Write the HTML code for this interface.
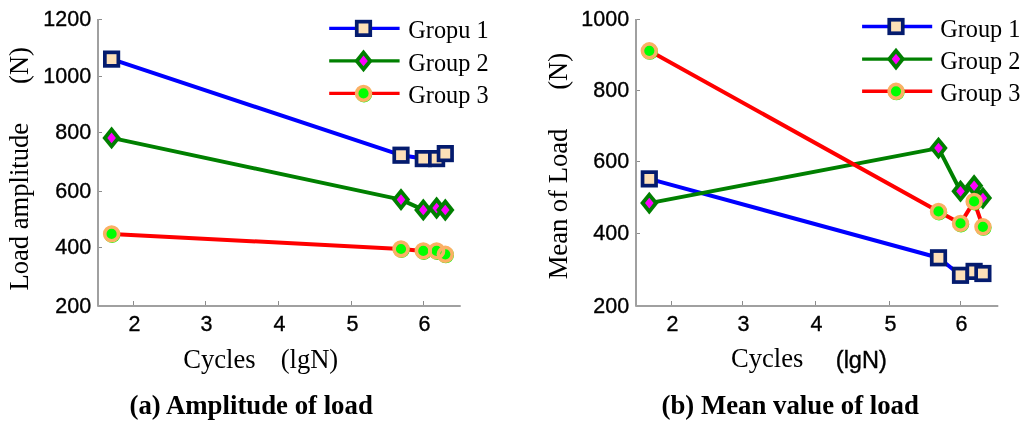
<!DOCTYPE html>
<html><head><meta charset="utf-8"><title>Load charts</title>
<style>
html,body{margin:0;padding:0;background:#fff;}
body{width:1024px;height:424px;overflow:hidden;}
svg{display:block;}
.tk{font-family:"Liberation Sans",Arial,sans-serif;font-size:21.5px;fill:#000;stroke:#000;stroke-width:0.35px;}
.lg{font-family:"Liberation Serif","Times New Roman",serif;font-size:24.3px;fill:#000;}
.lab{font-family:"Liberation Serif","Times New Roman",serif;font-size:26.6px;fill:#000;}
.sans2{font-family:"Liberation Sans",Arial,sans-serif;font-size:23.5px;stroke:#000;stroke-width:0.4px;}
.ttl{font-family:"Liberation Serif","Times New Roman",serif;font-size:26.8px;font-weight:bold;fill:#000;}
</style></head>
<body>
<svg width="1024" height="424" viewBox="0 0 1024 424">
<rect width="1024" height="424" fill="#fff"/>
<path d="M98,20 V306 H459.7" fill="none" stroke="#a0a0a0" stroke-width="2" stroke-linecap="square" stroke-linejoin="round"/><line x1="99" y1="19.5" x2="102" y2="19.5" stroke="#8c8c8c" stroke-width="1"/><line x1="99" y1="76.5" x2="102" y2="76.5" stroke="#8c8c8c" stroke-width="1"/><line x1="99" y1="132.5" x2="102" y2="132.5" stroke="#8c8c8c" stroke-width="1"/><line x1="99" y1="191.5" x2="102" y2="191.5" stroke="#8c8c8c" stroke-width="1"/><line x1="99" y1="247.5" x2="102" y2="247.5" stroke="#8c8c8c" stroke-width="1"/><line x1="133.5" y1="305" x2="133.5" y2="301" stroke="#8c8c8c" stroke-width="1"/><line x1="205.5" y1="305" x2="205.5" y2="301" stroke="#8c8c8c" stroke-width="1"/><line x1="278.5" y1="305" x2="278.5" y2="301" stroke="#8c8c8c" stroke-width="1"/><line x1="351.5" y1="305" x2="351.5" y2="301" stroke="#8c8c8c" stroke-width="1"/><line x1="423.5" y1="305" x2="423.5" y2="301" stroke="#8c8c8c" stroke-width="1"/><text transform="translate(91.10,26.00) scale(1.0,1.06)" class="tk" text-anchor="end">1200</text><text transform="translate(91.10,83.00) scale(1.0,1.06)" class="tk" text-anchor="end">1000</text><text transform="translate(91.10,139.00) scale(1.0,1.06)" class="tk" text-anchor="end">800</text><text transform="translate(91.10,198.00) scale(1.0,1.06)" class="tk" text-anchor="end">600</text><text transform="translate(91.10,254.00) scale(1.0,1.06)" class="tk" text-anchor="end">400</text><text transform="translate(91.10,313.00) scale(1.0,1.06)" class="tk" text-anchor="end">200</text><text transform="translate(134.50,331.00) scale(1.0,1.06)" class="tk" text-anchor="middle">2</text><text transform="translate(206.50,331.00) scale(1.0,1.06)" class="tk" text-anchor="middle">3</text><text transform="translate(279.50,331.00) scale(1.0,1.06)" class="tk" text-anchor="middle">4</text><text transform="translate(352.50,331.00) scale(1.0,1.06)" class="tk" text-anchor="middle">5</text><text transform="translate(424.50,331.00) scale(1.0,1.06)" class="tk" text-anchor="middle">6</text>
<polyline points="111.6,59.1 401.0,155.2 423.3,158.6 436.6,158.6 445.3,153.6" fill="none" stroke="#0000ff" stroke-width="4.0" stroke-linejoin="round" stroke-linecap="round"/><rect x="103.00" y="50.50" width="17.2" height="17.2" fill="#041b6e"/><rect x="106.70" y="54.20" width="9.8" height="9.8" fill="#fde0b8"/><rect x="392.40" y="146.60" width="17.2" height="17.2" fill="#041b6e"/><rect x="396.10" y="150.30" width="9.8" height="9.8" fill="#fde0b8"/><rect x="414.70" y="150.00" width="17.2" height="17.2" fill="#041b6e"/><rect x="418.40" y="153.70" width="9.8" height="9.8" fill="#fde0b8"/><rect x="428.00" y="150.00" width="17.2" height="17.2" fill="#041b6e"/><rect x="431.70" y="153.70" width="9.8" height="9.8" fill="#fde0b8"/><rect x="436.70" y="145.00" width="17.2" height="17.2" fill="#041b6e"/><rect x="440.40" y="148.70" width="9.8" height="9.8" fill="#fde0b8"/>
<polyline points="111.6,137.9 401.0,199.6 423.3,209.9 436.6,208.0 445.3,210.0" fill="none" stroke="#008000" stroke-width="4.0" stroke-linejoin="round" stroke-linecap="round"/><polygon points="111.6,126.5 120.8,137.9 111.6,149.3 102.4,137.9" fill="#007f00"/><polygon points="111.6,132.6 115.9,137.9 111.6,143.2 107.3,137.9" fill="#ff00ff"/><polygon points="401.0,188.2 410.2,199.6 401.0,211.0 391.8,199.6" fill="#007f00"/><polygon points="401.0,194.3 405.3,199.6 401.0,204.9 396.7,199.6" fill="#ff00ff"/><polygon points="423.3,198.5 432.5,209.9 423.3,221.3 414.1,209.9" fill="#007f00"/><polygon points="423.3,204.6 427.6,209.9 423.3,215.2 419.0,209.9" fill="#ff00ff"/><polygon points="436.6,196.6 445.8,208.0 436.6,219.4 427.4,208.0" fill="#007f00"/><polygon points="436.6,202.7 440.9,208.0 436.6,213.3 432.3,208.0" fill="#ff00ff"/><polygon points="445.3,198.6 454.5,210.0 445.3,221.4 436.1,210.0" fill="#007f00"/><polygon points="445.3,204.7 449.6,210.0 445.3,215.3 441.0,210.0" fill="#ff00ff"/>
<polyline points="111.6,233.9 401.0,249.0 423.3,250.9 436.6,250.9 445.3,254.3" fill="none" stroke="#ff0000" stroke-width="4.0" stroke-linejoin="round" stroke-linecap="round"/><circle cx="112.1" cy="234.7" r="8.2" fill="#00ff00"/><circle cx="111.6" cy="233.9" r="5.2" fill="#00ff00"/><circle cx="401.5" cy="249.8" r="8.2" fill="#00ff00"/><circle cx="401.0" cy="249.0" r="5.2" fill="#00ff00"/><circle cx="423.8" cy="251.7" r="8.2" fill="#00ff00"/><circle cx="423.3" cy="250.9" r="5.2" fill="#00ff00"/><circle cx="437.1" cy="251.7" r="8.2" fill="#00ff00"/><circle cx="436.6" cy="250.9" r="5.2" fill="#00ff00"/><circle cx="445.8" cy="255.1" r="8.2" fill="#00ff00"/><circle cx="445.3" cy="254.3" r="5.2" fill="#00ff00"/><circle cx="111.6" cy="233.9" r="6.9" fill="none" stroke="#fbb064" stroke-width="3.6"/><circle cx="401.0" cy="249.0" r="6.9" fill="none" stroke="#fbb064" stroke-width="3.6"/><circle cx="423.3" cy="250.9" r="6.9" fill="none" stroke="#fbb064" stroke-width="3.6"/><circle cx="436.6" cy="250.9" r="6.9" fill="none" stroke="#fbb064" stroke-width="3.6"/><circle cx="445.3" cy="254.3" r="6.9" fill="none" stroke="#fbb064" stroke-width="3.6"/>
<line x1="329.2" y1="28.4" x2="399.6" y2="28.4" stroke="#0000ff" stroke-width="3.4"/><rect x="354.90" y="19.80" width="17.2" height="17.2" fill="#041b6e"/><rect x="358.60" y="23.50" width="9.8" height="9.8" fill="#fde0b8"/><text transform="translate(408.30,38.30) scale(1.0,1.03)" class="lg">Gropu 1</text>
<line x1="329.2" y1="60.9" x2="399.6" y2="60.9" stroke="#008000" stroke-width="3.4"/><polygon points="363.5,49.5 372.7,60.9 363.5,72.3 354.3,60.9" fill="#007f00"/><polygon points="363.5,55.6 367.8,60.9 363.5,66.2 359.2,60.9" fill="#ff00ff"/><text transform="translate(408.30,71.30) scale(1.0,1.03)" class="lg">Group 2</text>
<line x1="329.2" y1="93.4" x2="399.6" y2="93.4" stroke="#ff0000" stroke-width="3.4"/><circle cx="364.0" cy="94.2" r="8.2" fill="#00ff00"/><circle cx="363.5" cy="93.4" r="5.2" fill="#00ff00"/><circle cx="363.5" cy="93.4" r="6.9" fill="none" stroke="#fbb064" stroke-width="3.6"/><text transform="translate(408.30,103.00) scale(1.0,1.03)" class="lg">Group 3</text>
<text transform="translate(28.00,290.50) rotate(-90) scale(1.0,1.06)" class="lab">Load amplitude<tspan dx="39">(N)</tspan></text>
<text transform="translate(183.30,368.20) scale(1.0,1.06)" class="lab">Cycles<tspan dx="25">(lgN)</tspan></text>
<text transform="translate(129.50,414.00) scale(1.0,1.03)" class="ttl">(a) Amplitude of load</text>
<path d="M636,20 V306 H997.3" fill="none" stroke="#a0a0a0" stroke-width="2" stroke-linecap="square" stroke-linejoin="round"/><line x1="637" y1="19.5" x2="640" y2="19.5" stroke="#8c8c8c" stroke-width="1"/><line x1="637" y1="90.5" x2="640" y2="90.5" stroke="#8c8c8c" stroke-width="1"/><line x1="637" y1="161.5" x2="640" y2="161.5" stroke="#8c8c8c" stroke-width="1"/><line x1="637" y1="233.5" x2="640" y2="233.5" stroke="#8c8c8c" stroke-width="1"/><line x1="671.5" y1="305" x2="671.5" y2="301" stroke="#8c8c8c" stroke-width="1"/><line x1="742.5" y1="305" x2="742.5" y2="301" stroke="#8c8c8c" stroke-width="1"/><line x1="815.5" y1="305" x2="815.5" y2="301" stroke="#8c8c8c" stroke-width="1"/><line x1="889.5" y1="305" x2="889.5" y2="301" stroke="#8c8c8c" stroke-width="1"/><line x1="960.5" y1="305" x2="960.5" y2="301" stroke="#8c8c8c" stroke-width="1"/><text transform="translate(629.10,26.00) scale(1.0,1.06)" class="tk" text-anchor="end">1000</text><text transform="translate(629.10,97.00) scale(1.0,1.06)" class="tk" text-anchor="end">800</text><text transform="translate(629.10,168.00) scale(1.0,1.06)" class="tk" text-anchor="end">600</text><text transform="translate(629.10,240.00) scale(1.0,1.06)" class="tk" text-anchor="end">400</text><text transform="translate(629.10,313.00) scale(1.0,1.06)" class="tk" text-anchor="end">200</text><text transform="translate(672.50,331.00) scale(1.0,1.06)" class="tk" text-anchor="middle">2</text><text transform="translate(743.50,331.00) scale(1.0,1.06)" class="tk" text-anchor="middle">3</text><text transform="translate(816.50,331.00) scale(1.0,1.06)" class="tk" text-anchor="middle">4</text><text transform="translate(890.50,331.00) scale(1.0,1.06)" class="tk" text-anchor="middle">5</text><text transform="translate(961.50,331.00) scale(1.0,1.06)" class="tk" text-anchor="middle">6</text>
<polyline points="649.3,178.9 938.5,257.8 960.5,275.3 974.1,271.4 982.9,273.5" fill="none" stroke="#0000ff" stroke-width="4.0" stroke-linejoin="round" stroke-linecap="round"/><rect x="640.70" y="170.30" width="17.2" height="17.2" fill="#041b6e"/><rect x="644.40" y="174.00" width="9.8" height="9.8" fill="#fde0b8"/><rect x="929.90" y="249.20" width="17.2" height="17.2" fill="#041b6e"/><rect x="933.60" y="252.90" width="9.8" height="9.8" fill="#fde0b8"/><rect x="951.90" y="266.70" width="17.2" height="17.2" fill="#041b6e"/><rect x="955.60" y="270.40" width="9.8" height="9.8" fill="#fde0b8"/><rect x="965.50" y="262.80" width="17.2" height="17.2" fill="#041b6e"/><rect x="969.20" y="266.50" width="9.8" height="9.8" fill="#fde0b8"/><rect x="974.30" y="264.90" width="17.2" height="17.2" fill="#041b6e"/><rect x="978.00" y="268.60" width="9.8" height="9.8" fill="#fde0b8"/>
<polyline points="649.3,203.1 938.5,148.1 960.5,191.2 974.1,185.7 982.9,198.0" fill="none" stroke="#008000" stroke-width="4.0" stroke-linejoin="round" stroke-linecap="round"/><polygon points="649.3,191.7 658.5,203.1 649.3,214.5 640.1,203.1" fill="#007f00"/><polygon points="649.3,197.8 653.6,203.1 649.3,208.4 645.0,203.1" fill="#ff00ff"/><polygon points="938.5,136.7 947.7,148.1 938.5,159.5 929.3,148.1" fill="#007f00"/><polygon points="938.5,142.8 942.8,148.1 938.5,153.4 934.2,148.1" fill="#ff00ff"/><polygon points="960.5,179.8 969.7,191.2 960.5,202.6 951.3,191.2" fill="#007f00"/><polygon points="960.5,185.9 964.8,191.2 960.5,196.5 956.2,191.2" fill="#ff00ff"/><polygon points="974.1,174.3 983.3,185.7 974.1,197.1 964.9,185.7" fill="#007f00"/><polygon points="974.1,180.4 978.4,185.7 974.1,191.0 969.8,185.7" fill="#ff00ff"/><polygon points="982.9,186.6 992.1,198.0 982.9,209.4 973.7,198.0" fill="#007f00"/><polygon points="982.9,192.7 987.2,198.0 982.9,203.3 978.6,198.0" fill="#ff00ff"/>
<polyline points="649.3,50.8 938.5,211.4 960.5,223.4 974.1,201.4 982.9,226.8" fill="none" stroke="#ff0000" stroke-width="4.0" stroke-linejoin="round" stroke-linecap="round"/><circle cx="649.8" cy="51.6" r="8.2" fill="#00ff00"/><circle cx="649.3" cy="50.8" r="5.2" fill="#00ff00"/><circle cx="939.0" cy="212.2" r="8.2" fill="#00ff00"/><circle cx="938.5" cy="211.4" r="5.2" fill="#00ff00"/><circle cx="961.0" cy="224.2" r="8.2" fill="#00ff00"/><circle cx="960.5" cy="223.4" r="5.2" fill="#00ff00"/><circle cx="974.6" cy="202.2" r="8.2" fill="#00ff00"/><circle cx="974.1" cy="201.4" r="5.2" fill="#00ff00"/><circle cx="983.4" cy="227.6" r="8.2" fill="#00ff00"/><circle cx="982.9" cy="226.8" r="5.2" fill="#00ff00"/><circle cx="649.3" cy="50.8" r="6.9" fill="none" stroke="#fbb064" stroke-width="3.6"/><circle cx="938.5" cy="211.4" r="6.9" fill="none" stroke="#fbb064" stroke-width="3.6"/><circle cx="960.5" cy="223.4" r="6.9" fill="none" stroke="#fbb064" stroke-width="3.6"/><circle cx="974.1" cy="201.4" r="6.9" fill="none" stroke="#fbb064" stroke-width="3.6"/><circle cx="982.9" cy="226.8" r="6.9" fill="none" stroke="#fbb064" stroke-width="3.6"/>
<line x1="862.1" y1="26.5" x2="932.2" y2="26.5" stroke="#0000ff" stroke-width="3.4"/><rect x="887.40" y="17.90" width="17.2" height="17.2" fill="#041b6e"/><rect x="891.10" y="21.60" width="9.8" height="9.8" fill="#fde0b8"/><text transform="translate(940.20,36.90) scale(1.0,1.03)" class="lg">Group 1</text>
<line x1="862.1" y1="59.1" x2="932.2" y2="59.1" stroke="#008000" stroke-width="3.4"/><polygon points="896.0,47.7 905.2,59.1 896.0,70.5 886.8,59.1" fill="#007f00"/><polygon points="896.0,53.8 900.3,59.1 896.0,64.4 891.7,59.1" fill="#ff00ff"/><text transform="translate(940.20,69.10) scale(1.0,1.03)" class="lg">Group 2</text>
<line x1="862.1" y1="91.3" x2="932.2" y2="91.3" stroke="#ff0000" stroke-width="3.4"/><circle cx="896.5" cy="92.1" r="8.2" fill="#00ff00"/><circle cx="896.0" cy="91.3" r="5.2" fill="#00ff00"/><circle cx="896.0" cy="91.3" r="6.9" fill="none" stroke="#fbb064" stroke-width="3.6"/><text transform="translate(940.20,101.30) scale(1.0,1.03)" class="lg">Group 3</text>
<text transform="translate(566.70,279.30) rotate(-90) scale(1.0,1.06)" class="lab">Mean of Load<tspan dx="39">(N)</tspan></text>
<text transform="translate(731.00,367.20) scale(1.0,1.06)" class="lab">Cycles</text>
<text transform="translate(835.80,368.20)" class="lab sans2">(lgN)</text>
<text transform="translate(661.50,414.00) scale(1.0,1.03)" class="ttl">(b) Mean value of load</text>
</svg>
</body></html>
